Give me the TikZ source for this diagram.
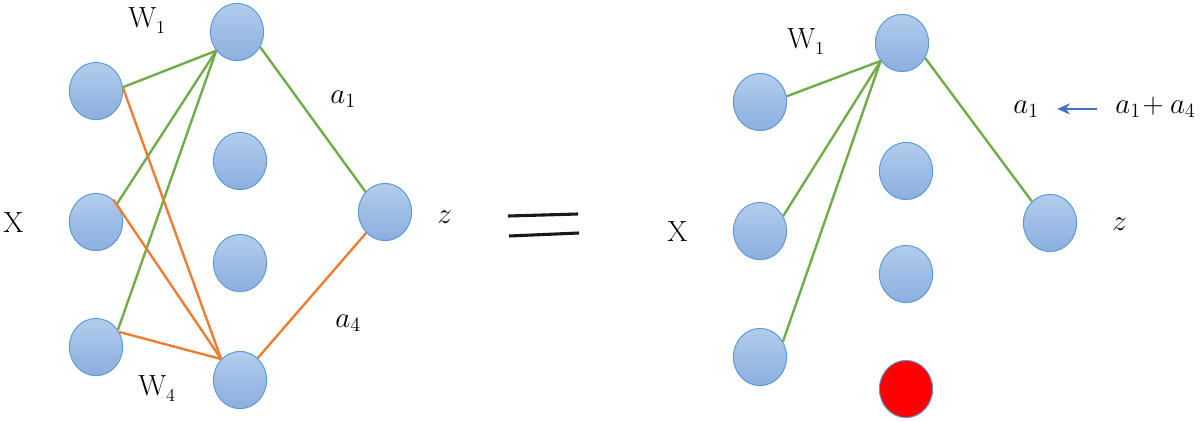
\documentclass[tikz,border=0pt]{standalone}
\usetikzlibrary{shapes.geometric, arrows.meta}

\definecolor{celltop}{HTML}{B2CCEC}
\definecolor{cellbot}{HTML}{8BAFDF}
\definecolor{cellline}{HTML}{5B9BD5}
\definecolor{wgreen}{HTML}{70AD47}
\definecolor{worange}{HTML}{ED7D31}
\definecolor{arrblue}{HTML}{4472C4}
\newcommand{\wsub}[1]{\raisebox{-0.22em}{\fontsize{13}{15}\selectfont #1}}

\begin{document}
\begin{tikzpicture}[
      x=0.025cm, y=-0.025cm,
      font=\huge,
      cell/.style={ellipse, draw=cellline, line width=0.7pt,
                   minimum width=1.33cm, minimum height=1.43cm, inner sep=0pt},
      neuron/.style={cell, top color=celltop, bottom color=cellbot},
      dropped/.style={cell, fill=red},
      lbl/.style={inner sep=0pt, anchor=base west},
      wg/.style={wgreen, line width=1.7pt},
      wo/.style={worange, line width=1.7pt},
      arr/.style={-{Stealth[length=3.2mm, width=2.8mm]}, arrblue, line width=0.9pt}
    ]
    \useasboundingbox (0,0) rectangle (1200,421);

    % Left network: inputs
    \node[neuron] (x1) at (96,91) {};
    \node[neuron] (x2) at (96,222) {};
    \node[neuron] (x3) at (96,347) {};
    % Left network: hidden
    \node[neuron] (h1) at (237,32) {};
    \node[neuron] (h2) at (240,161) {};
    \node[neuron] (h3) at (240,263) {};
    \node[neuron] (h4) at (240,380) {};
    % Left network: output
    \node[neuron] (zo) at (385,212) {};

    % Left labels
    \node[lbl] (w1) at (128,27) {W\wsub{1}};
    \node[lbl] (lx) at (3,232) {X};
    \node[lbl] (a1) at (330,103) {$a_1$};
    \node[lbl] (lz) at (437,223) {$z$};
    \node[lbl] (a4) at (335,327) {$a_4$};
    \node[lbl] (w4) at (138,395) {W\wsub{4}};

    % Left weights
    \draw[wg] (x1.8) -- (h1.222);
    \draw[wg] (x2.41) -- (h1.222);
    \draw[wg] (x3.38) -- (h1.222);
    \draw[wo] (x1.7) -- (h4.132);
    \draw[wo] (x2.52) -- (h4.132);
    \draw[wo] (x3.33) -- (h4.132);
    \draw[wg] (h1.-33) -- (zo.134);
    \draw[wo] (h4.51) -- (zo.228);

    % Equals sign
    \draw[line width=2.2pt, black!90] (508,216) -- (578,214);
    \draw[line width=2.2pt, black!90] (509,236) -- (579,233);

    % Right network: inputs
    \node[neuron] (rx1) at (760,102) {};
    \node[neuron] (rx2) at (760,231) {};
    \node[neuron] (rx3) at (760,357) {};
    % Right network: hidden
    \node[neuron] (rh1) at (902,43) {};
    \node[neuron] (rh2) at (906,171) {};
    \node[neuron] (rh3) at (906,274) {};
    \node[dropped] (rh4) at (906,389) {};
    % Right network: output
    \node[neuron] (rzo) at (1050,223) {};

    % Right labels
    \node[lbl] (rw1) at (787,48) {W\wsub{1}};
    \node[lbl] (rlx) at (667,241) {X};
    \node[lbl] (ra1) at (1013,113) {$a_1$};
    \node[lbl] (rsum) at (1115,113) {$a_1\!+a_4$};
    \node[lbl] (rlz) at (1112,230) {$z$};

    % Right weights
    \draw[wg] (rx1.12) -- (rh1.220);
    \draw[wg] (rx2.33) -- (rh1.220);
    \draw[wg] (rx3.34) -- (rh1.220);
    \draw[wg] (rh1.-33) -- (rzo.130);

    % Update arrow
    \draw[arr, shorten <=0.45cm, shorten >=0.45cm] (ra1.east -| rsum.west) -- (ra1.east);
  \end{tikzpicture}
\end{document}
